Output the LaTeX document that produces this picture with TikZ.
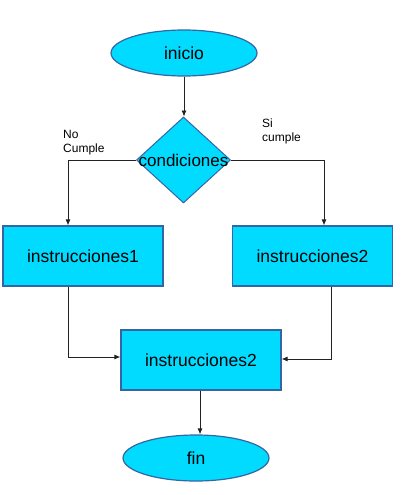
\documentclass[tikz,border=0pt]{standalone}
\usepackage{fontspec}
\setmainfont{Liberation Sans}
\usetikzlibrary{shapes.geometric,arrows.meta}
\definecolor{fillc}{HTML}{00DBFF}
\definecolor{edgec}{HTML}{3465A4}
\definecolor{linec}{HTML}{222222}
\tikzset{
  term/.style={ellipse,draw=edgec,line width=1.2pt,fill=fillc,minimum width=146pt,minimum height=46pt,inner sep=0pt,font=\fontsize{17.5}{21}\selectfont},
  procbox/.style={rectangle,draw=edgec,line width=1.2pt,fill=fillc,minimum width=160pt,minimum height=60pt,inner sep=0pt,font=\fontsize{17.5}{21}\selectfont},
  decis/.style={diamond,draw=edgec,line width=1pt,fill=fillc,minimum width=94pt,minimum height=86pt,inner sep=0pt},
  conn/.style={draw=linec,line width=0.8pt,-{Latex[length=6pt,width=5pt]}},
  small/.style={font=\fontsize{12}{14}\selectfont,align=left,anchor=north west,inner sep=0pt}
}
\begin{document}
\begin{tikzpicture}[x=1pt,y=-1pt]
\useasboundingbox (0,0) rectangle (401,495);
\node[term] (ini) at (184,53) {inicio};
\node[decis,label={[font=\fontsize{17}{20}\selectfont]center:condiciones}] (d) at (183.5,160) {};
\node[procbox] (b1) at (83,256) {instrucciones1};
\node[procbox] (b2) at (312.5,256) {instrucciones2};
\node[procbox] (b3) at (201,360) {instrucciones2};
\node[term] (fin) at (196,458) {fin};
\node[small] (nc) at (63,130) {No\\Cumple};
\node[small] (sc) at (262,119) {Si\\cumple};
\draw[conn] (ini.south) -- (ini.south |- d.north);
\draw[conn] (d.west) -| ([xshift=-15pt]b1.north);
\draw[conn] (d.east) -| ([xshift=11.5pt]b2.north);
\draw[conn] ([xshift=-15pt]b1.south) |- ([yshift=3pt]b3.west);
\draw[conn] ([xshift=18.5pt]b2.south) |- ([yshift=1pt]b3.east);
\draw[conn] ([xshift=-1pt]b3.south) -- ([xshift=-1pt]b3.south |- fin.north);
\end{tikzpicture}
\end{document}
